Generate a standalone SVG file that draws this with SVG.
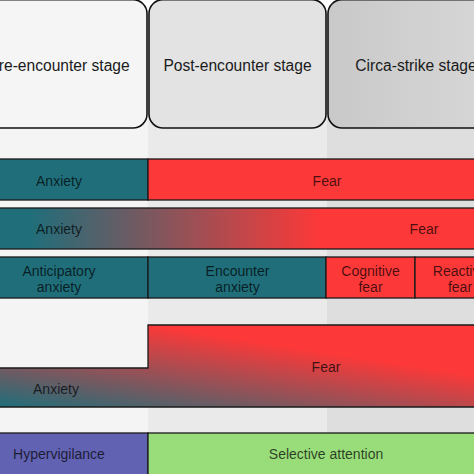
<svg xmlns="http://www.w3.org/2000/svg" width="474" height="474" viewBox="0 0 474 474">
<defs>
<linearGradient id="g2" gradientUnits="userSpaceOnUse" x1="30" y1="0" x2="320" y2="0">
<stop offset="0" stop-color="#1f6e7a"/><stop offset="1" stop-color="#fd3838"/>
</linearGradient>
<linearGradient id="g4" gradientUnits="userSpaceOnUse" x1="0" y1="407" x2="16" y2="304">
<stop offset="0" stop-color="#1f6e7a"/><stop offset="1" stop-color="#fd3838"/>
</linearGradient>
<linearGradient id="g3" x1="0" y1="0" x2="1" y2="0">
<stop offset="0" stop-color="#c9c9c9"/><stop offset="1" stop-color="#d8d8d8"/>
</linearGradient>
</defs>
<style>
.stage{stroke:#111;stroke-width:1.6}
.cell{stroke:#1a1a1a;stroke-width:1.3}
.st{font-family:"Liberation Sans",Arial,sans-serif;font-size:15.6px;fill:#1a1a1a;text-anchor:middle}
.t{font-family:"Liberation Sans",Arial,sans-serif;font-size:14px;fill:#000;fill-opacity:0.72;text-anchor:middle}
.teal{fill:#1f6e7a}.red{fill:#fd3838}
</style>
<rect x="0" y="0" width="474" height="474" fill="#ffffff"/>
<rect x="0" y="14" width="148" height="460" fill="#f4f4f4"/>
<rect x="148" y="14" width="179" height="460" fill="#eaeaea"/>
<rect x="327" y="14" width="147" height="460" fill="#dedede"/>

<g id="stage-pre"><rect class="stage" x="-30" y="-0.4" width="177" height="128.4" rx="14" fill="#f5f5f5"/><text class="st" x="59" y="71">Pre-encounter stage</text></g>
<g id="stage-post"><rect class="stage" x="149" y="-0.4" width="177" height="128.4" rx="14" fill="#e3e3e3"/><text class="st" x="237.5" y="71">Post-encounter stage</text></g>
<g id="stage-circa"><rect class="stage" x="328" y="-0.4" width="177" height="128.4" rx="14" fill="url(#g3)"/><text class="st" x="416" y="71">Circa-strike stage</text></g>

<g id="r1-anxiety"><rect class="cell teal" x="-30" y="159" width="178" height="41"/><text class="t" x="59" y="185.5">Anxiety</text></g>
<g id="r1-fear"><rect class="cell red" x="148" y="159" width="358" height="41"/><text class="t" x="327" y="185.5">Fear</text></g>

<g id="r2-continuum"><rect class="cell" x="-30" y="208" width="536" height="41" fill="url(#g2)"/><text class="t" x="59" y="234">Anxiety</text><text class="t" x="424" y="234">Fear</text></g>

<g id="r3-anticipatory"><rect class="cell teal" x="-30" y="257" width="178" height="41"/><text class="t" x="59" y="276">Anticipatory</text><text class="t" x="59" y="292">anxiety</text></g>
<g id="r3-encounter"><rect class="cell teal" x="148" y="257" width="178" height="41"/><text class="t" x="237.5" y="276">Encounter</text><text class="t" x="237.5" y="292">anxiety</text></g>
<g id="r3-cognitive"><rect class="cell red" x="326" y="257" width="89" height="41"/><text class="t" x="370.5" y="276">Cognitive</text><text class="t" x="370.5" y="292">fear</text></g>
<g id="r3-reactive"><rect class="cell red" x="415" y="257" width="91" height="41"/><text class="t" x="460" y="276">Reactive</text><text class="t" x="460" y="292">fear</text></g>

<g id="r4-step"><path class="cell" d="M-30 368H148V325H506V407H-30Z" fill="url(#g4)"/><text class="t" x="56" y="394">Anxiety</text><text class="t" x="326" y="372">Fear</text></g>

<g id="r5-hypervigilance"><rect class="cell" x="-30" y="433" width="178" height="60" fill="#6262b2"/><text class="t" x="59" y="459">Hypervigilance</text></g>
<g id="r5-selective"><rect class="cell" x="148" y="433" width="358" height="60" fill="#99dc7a"/><text class="t" x="326" y="459">Selective attention</text></g>

<g id="connectors"/>
</svg>
